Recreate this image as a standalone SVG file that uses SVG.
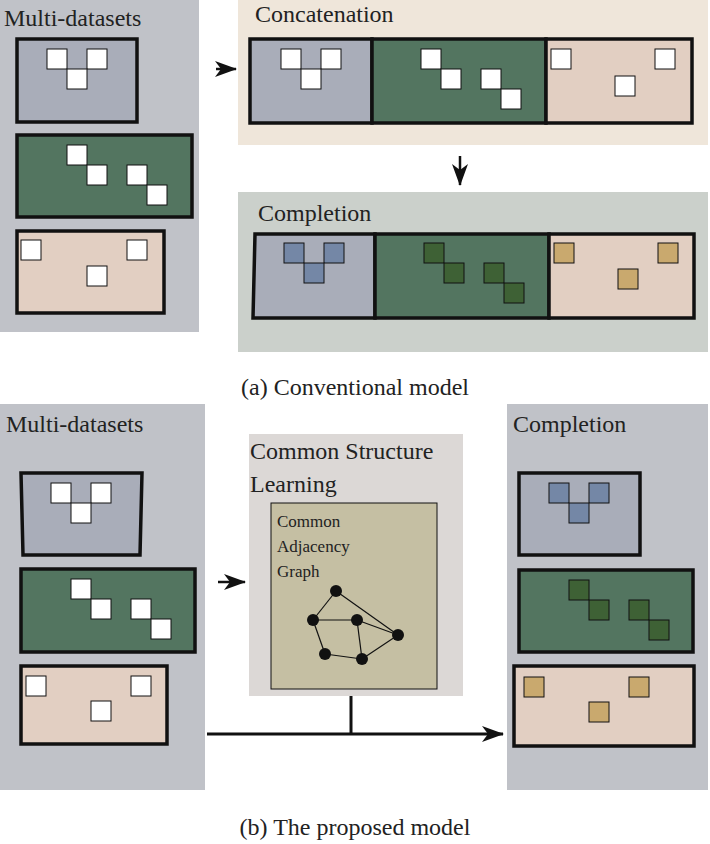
<svg xmlns="http://www.w3.org/2000/svg" width="710" height="844" viewBox="0 0 710 844">
<defs>
<marker id="ah" markerWidth="10" markerHeight="10" refX="9" refY="5" orient="auto" markerUnits="userSpaceOnUse"><path d="M0,0 L10,5 L0,10 L3,5 Z" fill="#111"/></marker>
<marker id="ah2" markerWidth="22" markerHeight="16" refX="21" refY="8" orient="auto" markerUnits="userSpaceOnUse"><path d="M0,0 L22,8 L0,16 L6,8 Z" fill="#111"/></marker>
<style>
text{font-family:"Liberation Serif",serif;fill:#222}
.t{font-size:24px}
.s{font-size:17px}
.box{stroke:#111;stroke-width:3.5}
.b{fill:#a9adb9}.g{fill:#537560}.p{fill:#e2cfc2}
.w{fill:#fff;stroke:#111;stroke-width:1}
.qb{fill:#7487a6;stroke:#111;stroke-width:1}
.qg{fill:#3e6135;stroke:#111;stroke-width:1}
.qt{fill:#c9a96e;stroke:#111;stroke-width:1}
.ln{stroke:#111;fill:none}
</style>
</defs>
<rect width="710" height="844" fill="#fff"/>
<!-- (a) -->
<g id="a-multi">
<rect x="0" y="0" width="199" height="332" fill="#c0c2c8"/>
<text class="t" x="4" y="26">Multi-datasets</text>
<rect class="box b" x="17" y="39" width="120" height="83"/>
<rect class="w" x="47" y="49" width="20" height="20"/><rect class="w" x="87" y="49" width="20" height="20"/><rect class="w" x="67" y="69" width="20" height="20"/>
<rect class="box g" x="17" y="135" width="175" height="82"/>
<rect class="w" x="67" y="145" width="20" height="20"/><rect class="w" x="87" y="165" width="20" height="20"/><rect class="w" x="127" y="165" width="20" height="20"/><rect class="w" x="147" y="185" width="20" height="20"/>
<rect class="box p" x="17" y="231" width="147" height="82"/>
<rect class="w" x="21" y="240" width="20" height="20"/><rect class="w" x="127" y="240" width="20" height="20"/><rect class="w" x="87" y="266" width="20" height="20"/>
</g>
<g id="a-concat">
<rect x="238" y="0" width="470" height="145" fill="#efe6da"/>
<text class="t" x="255" y="22">Concatenation</text>
<rect class="box b" x="250" y="39" width="122" height="84"/>
<rect class="box g" x="372" y="39" width="174" height="84"/>
<rect class="box p" x="546" y="39" width="146" height="84"/>
<rect class="w" x="281" y="49" width="20" height="20"/><rect class="w" x="321" y="49" width="20" height="20"/><rect class="w" x="301" y="69" width="20" height="20"/>
<rect class="w" x="421" y="49" width="20" height="20"/><rect class="w" x="441" y="69" width="20" height="20"/><rect class="w" x="481" y="69" width="20" height="20"/><rect class="w" x="501" y="89" width="20" height="20"/>
<rect class="w" x="551" y="49" width="20" height="20"/><rect class="w" x="655" y="49" width="20" height="20"/><rect class="w" x="615" y="76" width="20" height="20"/>
</g>
<g id="a-completion">
<rect x="238" y="192" width="470" height="160" fill="#cbd0cb"/>
<text class="t" x="258" y="221">Completion</text>
<path class="box b" d="M255,234 L375,234 L375,318 L253,318 Z"/>
<rect class="box g" x="375" y="234" width="174" height="84"/>
<rect class="box p" x="549" y="234" width="145" height="84"/>
<rect class="qb" x="284" y="243" width="20" height="20"/><rect class="qb" x="324" y="243" width="20" height="20"/><rect class="qb" x="304" y="263" width="20" height="20"/>
<rect class="qg" x="424" y="243" width="20" height="20"/><rect class="qg" x="444" y="263" width="20" height="20"/><rect class="qg" x="484" y="263" width="20" height="20"/><rect class="qg" x="504" y="283" width="20" height="20"/>
<rect class="qt" x="554" y="243" width="20" height="20"/><rect class="qt" x="658" y="243" width="20" height="20"/><rect class="qt" x="618" y="269" width="20" height="20"/>
</g>
<text class="t" x="355" y="395" text-anchor="middle">(a)  Conventional model</text>
<!-- (b) -->
<g id="b-multi">
<rect x="0" y="404" width="205" height="386" fill="#c0c2c8"/>
<text class="t" x="6" y="432">Multi-datasets</text>
<path class="box b" d="M21,473 L142,473 L140,555 L23,555 Z"/>
<rect class="w" x="51" y="483" width="20" height="20"/><rect class="w" x="91" y="483" width="20" height="20"/><rect class="w" x="71" y="503" width="20" height="20"/>
<rect class="box g" x="21" y="569" width="174" height="83"/>
<rect class="w" x="71" y="579" width="20" height="20"/><rect class="w" x="91" y="599" width="20" height="20"/><rect class="w" x="131" y="599" width="20" height="20"/><rect class="w" x="151" y="619" width="20" height="20"/>
<rect class="box p" x="21" y="666" width="146" height="78"/>
<rect class="w" x="26" y="676" width="20" height="20"/><rect class="w" x="131" y="676" width="20" height="20"/><rect class="w" x="91" y="701" width="20" height="20"/>
</g>
<g id="b-structure">
<rect x="249" y="434" width="214" height="262" fill="#dcd8d6"/>
<text class="t" x="250" y="459">Common Structure</text>
<text class="t" x="250" y="492">Learning</text>
<rect x="271" y="503" width="166" height="186" fill="#c5bfa3" stroke="#111" stroke-width="1"/>
<text class="s" x="277" y="527">Common</text>
<text class="s" x="277" y="552">Adjacency</text>
<text class="s" x="277" y="577">Graph</text>
<g stroke="#111" stroke-width="1.2">
<line x1="336" y1="591" x2="313" y2="620"/><line x1="336" y1="591" x2="398" y2="635"/>
<line x1="313" y1="620" x2="357" y2="620"/><line x1="357" y1="620" x2="398" y2="635"/>
<line x1="313" y1="620" x2="325" y2="654"/><line x1="357" y1="620" x2="362" y2="659"/>
<line x1="325" y1="654" x2="362" y2="659"/><line x1="362" y1="659" x2="398" y2="635"/>
</g>
<g fill="#111"><circle cx="336" cy="591" r="6"/><circle cx="313" cy="620" r="6"/><circle cx="357" cy="620" r="6"/><circle cx="398" cy="635" r="6"/><circle cx="325" cy="654" r="6"/><circle cx="362" cy="659" r="6"/></g>
</g>
<g id="b-completion">
<rect x="507" y="404" width="201" height="386" fill="#c0c2c8"/>
<text class="t" x="513" y="432">Completion</text>
<rect class="box b" x="519" y="473" width="121" height="82"/>
<rect class="qb" x="549" y="483" width="20" height="20"/><rect class="qb" x="589" y="483" width="20" height="20"/><rect class="qb" x="569" y="503" width="20" height="20"/>
<rect class="box g" x="519" y="570" width="174" height="82"/>
<rect class="qg" x="569" y="580" width="20" height="20"/><rect class="qg" x="589" y="600" width="20" height="20"/><rect class="qg" x="629" y="600" width="20" height="20"/><rect class="qg" x="649" y="620" width="20" height="20"/>
<rect class="box p" x="514" y="666" width="180" height="80"/>
<rect class="qt" x="524" y="677" width="20" height="20"/><rect class="qt" x="629" y="677" width="20" height="20"/><rect class="qt" x="589" y="702" width="20" height="20"/>
</g>
<text class="t" x="355" y="835" text-anchor="middle">(b)  The proposed model</text>
<g id="connectors">
<line class="ln" x1="216" y1="69" x2="236" y2="69" stroke-width="2.5" marker-end="url(#ah2)"/>
<line class="ln" x1="460" y1="156" x2="460" y2="185" stroke-width="2.5" marker-end="url(#ah2)"/>
<line class="ln" x1="218" y1="582" x2="245" y2="582" stroke-width="2.5" marker-end="url(#ah2)"/>
<line class="ln" x1="351" y1="696" x2="351" y2="734" stroke-width="3"/>
<line class="ln" x1="207" y1="734" x2="503" y2="734" stroke-width="3" marker-end="url(#ah2)"/>
</g>
</svg>
